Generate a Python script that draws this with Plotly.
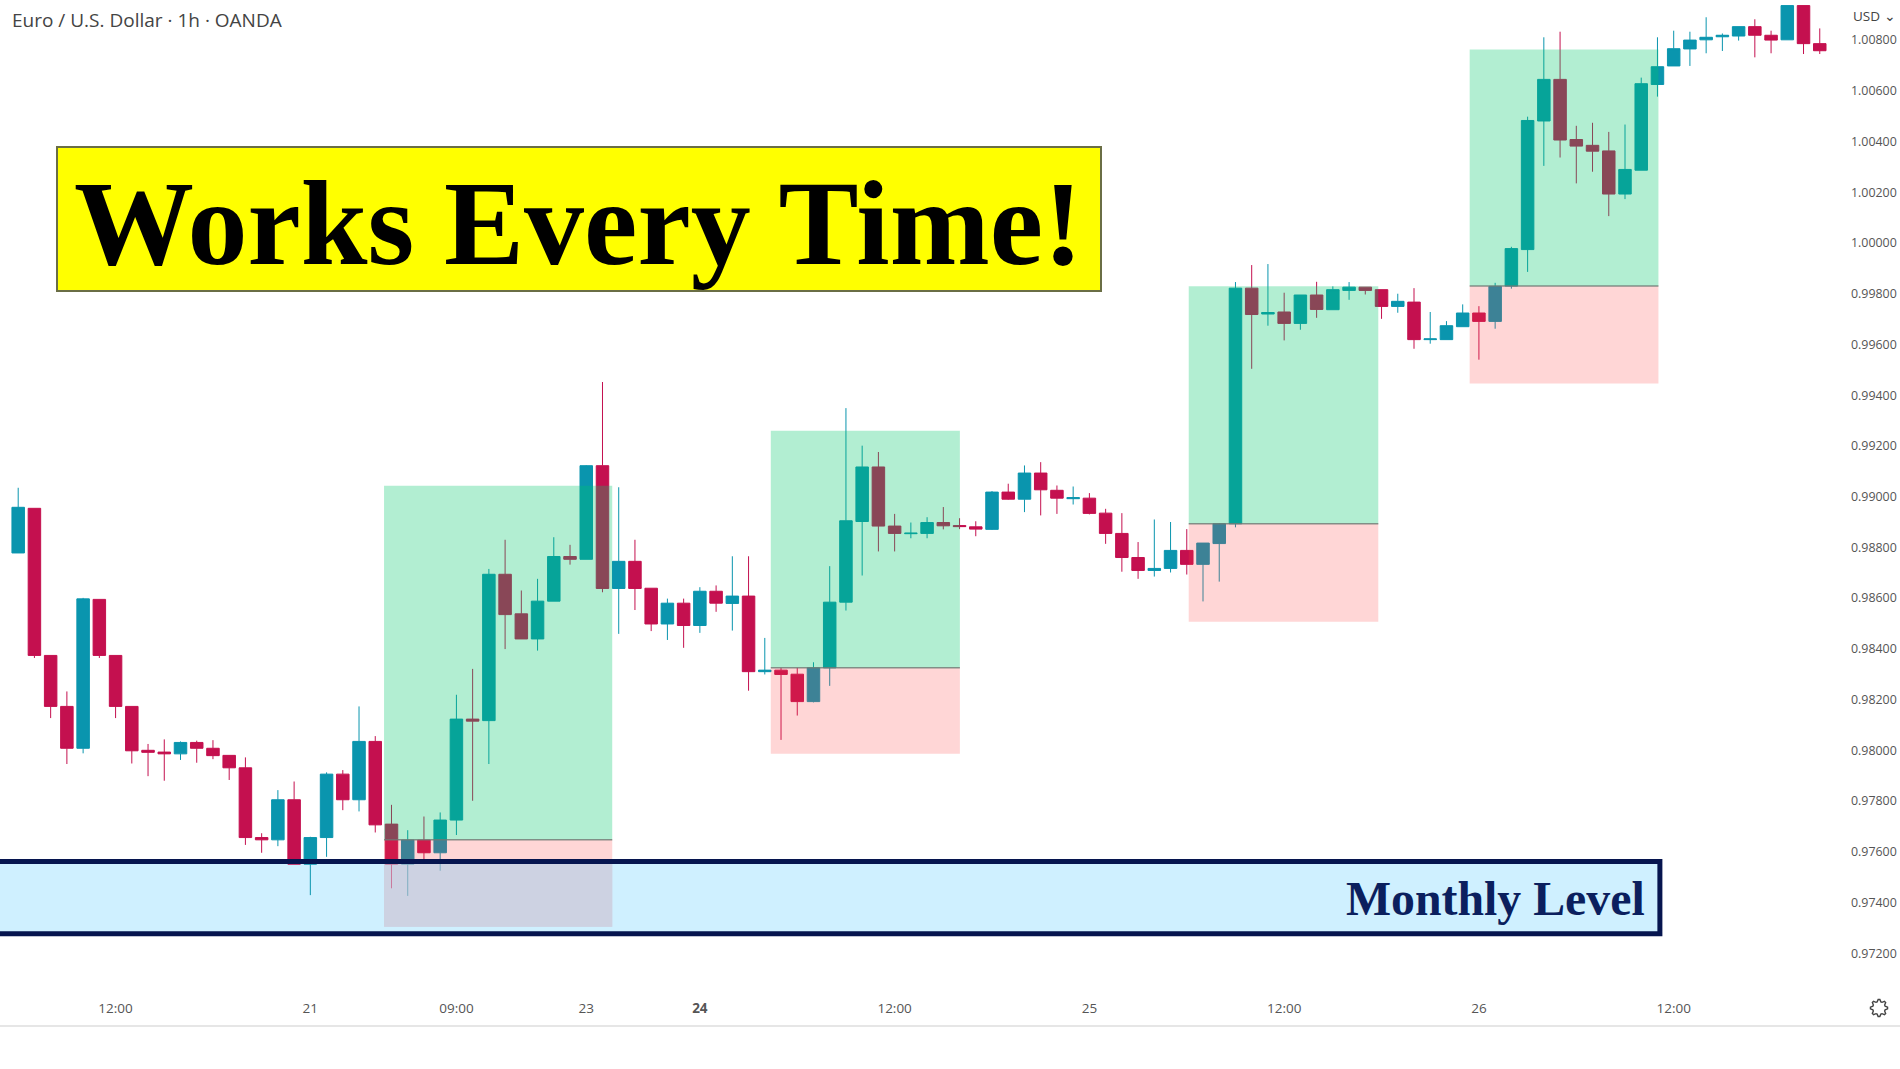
import math
import plotly.graph_objects as go

opens = [.98778,.98954,.98374,.98173,.98008,.98595,.98374,.98173,.98000,.97993,.97986,.98031,.98008,.97980,.97931,.97656,.97647,.97805,.97551,.97656,
.97906,.97805,.98035,.97709,.97551,.97646,.97596,.97725,.98123,.98117,.98694,.98538,.98439,.98588,.98764,.98753,.99122,.98638,.98745,.98639,
.98498,.98580,.98492,.98627,.98579,.98608,.98310,.98316,.98300,.98192,.98325,.98584,.98902,.99117,.98884,.98854,.98855,.98898,.98886,.98881,
.98871,.99018,.98990,.99093,.99025,.98992,.98994,.98935,.98855,.98760,.98709,.98717,.98788,.98733,.98815,.98893,.99822,.99720,.99728,.99683,
.99795,.99737,.99813,.99826,.99816,.99750,.99767,.99619,.99619,.99670,.99724,.99691,.99830,.99974,1.00481,1.00645,1.00408,1.00385,1.00363,1.00193,
1.00287,1.00625,1.00698,1.00765,1.00801,1.00813,1.00816,1.00853,1.00819,1.00801,1.00936,1.00786]
highs = [.99035,.98954,.98374,.98232,.98601,.98595,.98374,.98173,.98025,.98043,.98035,.98038,.98040,.97980,.97972,.97673,.97843,.97877,.97659,.97913,
.97922,.98173,.98056,.97785,.97685,.97739,.97755,.98219,.98321,.98715,.98830,.98630,.98676,.98840,.98810,.99124,.99452,.99037,.98830,.98639,
.98598,.98598,.98643,.98650,.98765,.98765,.98443,.98325,.98325,.98347,.98726,.99349,.99201,.99176,.98932,.98898,.98919,.98959,.98915,.98903,
.99022,.99051,.99123,.99136,.99044,.99040,.99014,.98952,.98935,.98821,.98910,.98900,.98872,.98817,.98896,.99846,.99913,.99917,.99804,.99795,
.99847,.99829,.99846,.99826,.99816,.99800,.99822,.99728,.99692,.99758,.99751,.99843,.99985,1.00498,1.00811,1.00833,1.00462,1.00474,1.00438,1.00467,
1.00652,1.00811,1.00837,1.00833,1.00890,1.00826,1.00853,1.00882,1.00837,1.00936,1.00936,1.00846]
lows = [.98778,.98364,.98127,.97946,.97988,.98364,.98127,.97948,.97898,.97880,.97962,.97951,.97965,.97883,.97627,.97596,.97622,.97551,.97429,.97580,
.97764,.97759,.97676,.97456,.97426,.97571,.97525,.97666,.97801,.97946,.98399,.98439,.98393,.98588,.98732,.98753,.98623,.98459,.98553,.98470,
.98435,.98404,.98463,.98546,.98472,.98235,.98299,.98041,.98137,.98189,.98254,.98551,.98689,.98784,.98784,.98836,.98836,.98871,.98872,.98844,
.98869,.98988,.98939,.98926,.98932,.98969,.98930,.98814,.98704,.98676,.98685,.98701,.98693,.98587,.98665,.98879,.99504,.99674,.99616,.99658,
.99705,.99737,.99776,.99797,.99701,.99725,.99583,.99603,.99619,.99670,.99540,.99662,.99820,.99886,1.00304,1.00337,1.00235,1.00281,1.00106,1.00173,
1.00287,1.00577,1.00698,1.00698,1.00748,1.00757,1.00798,1.00732,1.00748,1.00801,1.00745,1.00745]
closes = [.98958,.98374,.98173,.98008,.98597,.98374,.98173,.97998,.97992,.97986,.98031,.98008,.97979,.97931,.97656,.97647,.97805,.97551,.97656,.97906,
.97805,.98035,.97706,.97551,.97646,.97596,.97725,.98123,.98115,.98694,.98535,.98439,.98588,.98764,.98753,.99122,.98638,.98745,.98638,.98498,
.98580,.98492,.98627,.98580,.98608,.98310,.98316,.98299,.98192,.98325,.98584,.98905,.99117,.98884,.98855,.98856,.98898,.98885,.98882,.98872,
.99018,.98990,.99093,.99027,.98994,.98996,.98934,.98855,.98760,.98709,.98717,.98788,.98733,.98817,.98893,.99822,.99718,.99726,.99683,.99795,
.99738,.99816,.99826,.99813,.99750,.99770,.99619,.99622,.99674,.99724,.99691,.99829,.99978,1.00483,1.00645,1.00406,1.00382,1.00362,1.00193,1.00290,
1.00628,1.00695,1.00766,1.00800,1.00811,1.00819,1.00853,1.00819,1.00800,1.00936,1.00786,1.00758]
bars = list(range(len(opens)))

time_ticks = [6, 18, 27, 35, 42, 54, 66, 78, 90, 102]
time_labels = ["12:00", "21", "09:00", "23", "<b>24</b>", "12:00", "25", "12:00", "26", "12:00"]
price_ticks = [1.008, 1.006, 1.004, 1.002, 1.0, .998, .996, .994, .992, .99, .988, .986, .984, .982, .98, .978, .976, .974, .972]
price_labels = [f"{p:.5f}" for p in price_ticks]

trade_start = [22.54, 46.37, 72.12, 89.43]
trade_end = [36.6, 58.02, 83.8, 101.06]
trade_target = [.99043, .99260, .99829, 1.00763]
trade_entry = [.97647, .98325, .98893, .99830]
trade_stop = [.97304, .97986, .98507, .99446]

level_top = .97562
level_bottom = .97277
level_end = 101.15

UP = "#0A95AE"
DOWN = "#C4104F"
NAVY = "#06154F"
LABEL = "#555555"

fig = go.Figure(go.Candlestick(
    x=bars, open=opens, high=highs, low=lows, close=closes,
    increasing=dict(line=dict(color=UP, width=1), fillcolor=UP),
    decreasing=dict(line=dict(color=DOWN, width=1), fillcolor=DOWN),
    whiskerwidth=0, showlegend=False, hoverinfo="skip",
))

shapes = [dict(type="rect", xref="x", yref="y", x0=-3, x1=level_end, y0=level_bottom, y1=level_top,
               fillcolor="#CFF0FF", line_width=0, layer="below")]
for s, e, t, n, b in zip(trade_start, trade_end, trade_target, trade_entry, trade_stop):
    shapes.append(dict(type="rect", xref="x", yref="y", x0=s, x1=e, y0=n, y1=t,
                       fillcolor="rgba(0,200,105,0.3)", line_width=0, layer="above"))
    shapes.append(dict(type="rect", xref="x", yref="y", x0=s, x1=e, y0=b, y1=n,
                       fillcolor="rgba(255,60,60,0.21)", line_width=0, layer="above"))
    shapes.append(dict(type="line", xref="x", yref="y", x0=s, x1=e, y0=n, y1=n,
                       line=dict(color="rgba(110,120,115,0.8)", width=1.5), layer="above"))
# where the first stop zone sits over the level, the blend is a cooler grey
shapes.append(dict(type="rect", xref="x", yref="y", x0=trade_start[0], x1=trade_end[0],
                   y0=trade_stop[0], y1=level_top, fillcolor="rgba(193,218,238,0.5)", line_width=0, layer="above"))
shapes.append(dict(type="rect", xref="x", yref="y", x0=-3, x1=level_end, y0=level_bottom, y1=level_top,
                   fillcolor="rgba(0,0,0,0)", line=dict(color=NAVY, width=5), layer="above"))
# headline panel
shapes.append(dict(type="rect", xref="paper", yref="paper",
                   x0=57/1848, x1=1101/1848, y0=1-291/990, y1=1-147/990,
                   fillcolor="#FFFF00", line=dict(color="#6A6E45", width=2), layer="above"))
# time-axis divider
shapes.append(dict(type="line", xref="paper", yref="paper", x0=0, x1=1900/1848,
                   y0=1-1026/990, y1=1-1026/990, line=dict(color="#E6E6E6", width=2), layer="above"))
# settings gear
gear = []
for k in range(32):
    a = 2 * math.pi * k / 32
    r = 8.6 if k % 4 in (0, 1) else 6.4
    gear.append(f"{'M' if k == 0 else 'L'}{r*math.cos(a - 0.1):.2f},{r*math.sin(a - 0.1):.2f}")
shapes.append(dict(type="path", path=" ".join(gear) + " Z", xref="paper", yref="paper",
                   xsizemode="pixel", ysizemode="pixel", xanchor=1879/1848, yanchor=1-1008/990,
                   fillcolor="white", line=dict(color="#444444", width=1.4), layer="above"))

annotations = [
    dict(text="<b>Works Every Time!</b>", xref="paper", yref="paper", x=578/1848, y=1-223/990,
         xanchor="center", yanchor="middle", showarrow=False,
         font=dict(family="Liberation Serif", size=120, color="#000000")),
    dict(text="<b>Monthly Level</b>", xref="paper", yref="paper", x=1646.5/1848, y=1-898/990,
         xanchor="right", yanchor="middle", showarrow=False,
         font=dict(family="Liberation Serif", size=47.8, color="#0B1F5E")),
    dict(text="Euro / U.S. Dollar · 1h · OANDA", xref="paper", yref="paper", x=10/1848, y=1-20/990,
         xanchor="left", yanchor="middle", showarrow=False,
         font=dict(family="Open Sans", size=19, color="#444444")),
    dict(text="USD ⌄", xref="paper", yref="paper", x=1851/1848, y=1-16/990,
         xanchor="left", yanchor="middle", showarrow=False,
         font=dict(family="Open Sans", size=13.5, color="#444444")),
]

fig.update_layout(
    width=1900, height=1069, autosize=False,
    margin=dict(l=0, r=52, t=0, b=79),
    paper_bgcolor="white", plot_bgcolor="white",
    boxgap=0.23, boxgroupgap=0, shapes=shapes, annotations=annotations, showlegend=False,
    xaxis=dict(range=[-1.121, 112.74], rangeslider=dict(visible=False), showgrid=False, zeroline=False,
               showline=False, ticks="", tickmode="array", tickvals=time_ticks, ticktext=time_labels,
               ticklabelstandoff=8,
               tickfont=dict(family="Open Sans", size=13.5, color=LABEL), automargin=False),
    yaxis=dict(side="right", range=[0.97055, 1.00958], showgrid=False, zeroline=False, showline=False,
               ticks="", tickmode="array", tickvals=price_ticks, ticktext=price_labels,
               ticklabelstandoff=2,
               tickfont=dict(family="Open Sans", size=12.4, color=LABEL), automargin=False),
)
fig.write_html("out.html", config=dict(displayModeBar=False),
               post_script="document.body.style.margin='0';document.body.style.overflow='hidden';")
